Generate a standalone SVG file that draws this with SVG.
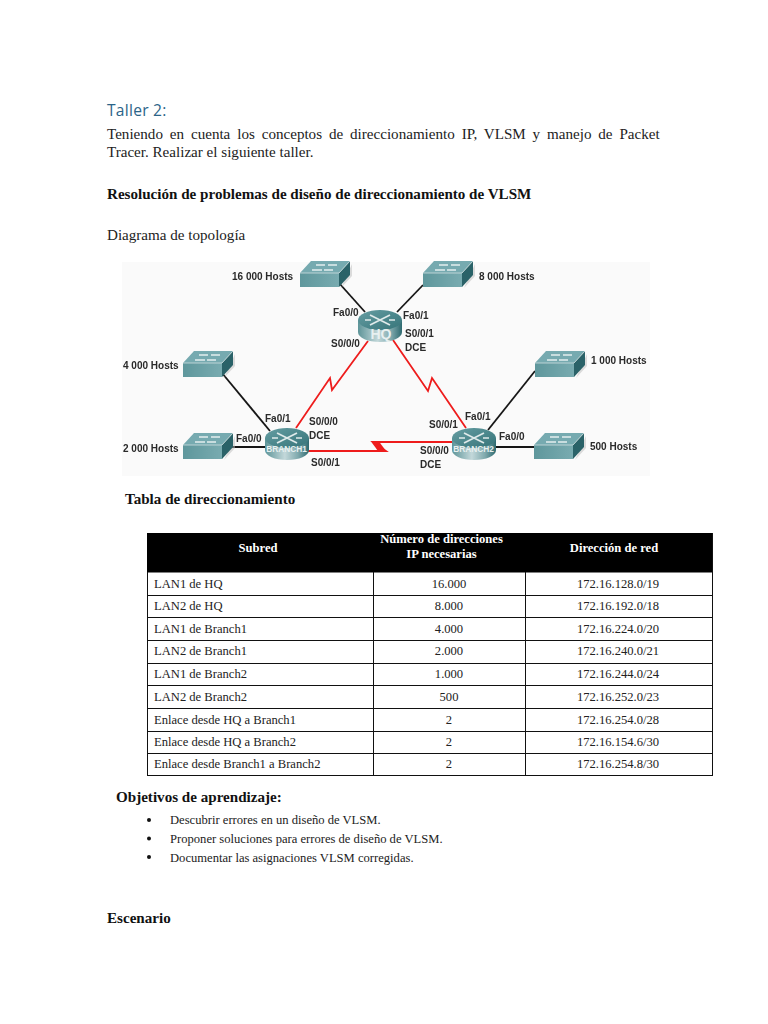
<svg xmlns="http://www.w3.org/2000/svg" xmlns:xlink="http://www.w3.org/1999/xlink" width="768" height="1024" viewBox="0 0 768 1024">
<style>
text{font-family:"Liberation Serif",serif;fill:#222}
.b{font-size:15.1px}
.h{font-size:15.1px;font-weight:bold;fill:#111}
.t{font-size:12.6px;fill:#222}
.c{text-anchor:middle}
.th{font-size:12.6px;font-weight:bold;fill:#fff;text-anchor:middle}
.n{font-family:"Liberation Sans",sans-serif;font-size:10px;font-weight:bold;fill:#2a2a2a}
.w{font-family:"Liberation Sans",sans-serif;font-weight:bold;fill:#e8f0f0;text-anchor:middle}
.k{fill:none;stroke:#151515;stroke-width:1.8}
.r{fill:none;stroke:#ee1c1c;stroke-width:1.8}
.g{stroke:#111;stroke-width:1;fill:none}
</style>
<defs>
<filter id="soft" x="-5%" y="-5%" width="110%" height="110%"><feGaussianBlur stdDeviation="0.5"/></filter>
<filter id="lab" x="-5%" y="-20%" width="110%" height="140%"><feGaussianBlur stdDeviation="0.25"/></filter>
<linearGradient id="rb" x1="0" x2="1" y1="0" y2="0"><stop offset="0" stop-color="#5d9498"/><stop offset="0.45" stop-color="#c3d8da"/><stop offset="0.75" stop-color="#7fa9ad"/><stop offset="1" stop-color="#2e6a70"/></linearGradient>
<linearGradient id="rt2" x1="0" x2="1" y1="0" y2="1"><stop offset="0" stop-color="#659da2"/><stop offset="1" stop-color="#367479"/></linearGradient>
<linearGradient id="sf" x1="0" x2="1" y1="0" y2="0"><stop offset="0" stop-color="#5f979c"/><stop offset="1" stop-color="#78abb0"/></linearGradient>
<g id="sw">
<path d="M2 27H41L52 15V3L41 27Z" fill="#bbb" opacity="0.5"/>
<path d="M0 12L11 0H50L39 12Z" fill="#76aab0"/>
<path d="M39 12L50 0V14L39 26Z" fill="#2c6267"/>
<rect x="0" y="12" width="39" height="14" fill="url(#sf)"/>
<path d="M0 12H39L50 0" fill="none" stroke="#cfe0e1" stroke-width="0.8"/>
<path d="M16 4H25M12 9H22M28 4H37M24 9H33" stroke="#e4eeee" stroke-width="1.4"/>
</g>
<g id="rt">
<path d="M0 10V22C0 28 10 32 22 32S44 28 44 22V10Z" fill="url(#rb)"/>
<ellipse cx="22" cy="10" rx="22" ry="10" fill="url(#rt2)"/>
<path d="M12 5L32 15M32 5L12 15M7 10H13M31 10H37" stroke="#dfeaea" stroke-width="1.7"/>
</g>
</defs>
<rect width="768" height="1024" fill="#fff"/>
<text x="107" y="116" style="font-family:'Open Sans',sans-serif;font-size:15.6px;letter-spacing:0.25px;fill:#2b6488">Taller 2:</text>
<text x="107" y="139" class="b" word-spacing="3.1">Teniendo en cuenta los conceptos de direccionamiento IP, VLSM y manejo de Packet</text>
<text x="107" y="157" class="b">Tracer. Realizar el siguiente taller.</text>
<text x="107" y="199" class="h">Resolución de problemas de diseño de direccionamiento de VLSM</text>
<text x="107" y="240" class="b">Diagrama de topología</text>
<rect x="122" y="262" width="528" height="214" fill="#fafafa"/>
<g id="connectors" filter="url(#soft)">
<path class="k" d="M339 283L365 312"/>
<path class="k" d="M423 285L397 312"/>
<path class="k" d="M222 373L270 431"/>
<path class="k" d="M230 447H266"/>
<path class="k" d="M535 371L488 430"/>
<path class="k" d="M495 447H534"/>
<path class="r" d="M368 341L332 390L330 378L296 428"/>
<path class="r" d="M393 340L428 391L432 378L466 428"/>
<path class="r" d="M308 451H386L373 442H452"/>
<path d="M371 441.500H379L386 451H378Z" fill="#ee1c1c"/>
</g>
<g id="sw16" filter="url(#soft)"><use xlink:href="#sw" href="#sw" x="300" y="261"/></g>
<g id="sw8" filter="url(#soft)"><use xlink:href="#sw" href="#sw" x="423" y="261"/></g>
<g id="sw4" filter="url(#soft)"><use xlink:href="#sw" href="#sw" x="183" y="351"/></g>
<g id="sw2" filter="url(#soft)"><use xlink:href="#sw" href="#sw" x="183" y="433"/></g>
<g id="sw1k" filter="url(#soft)"><use xlink:href="#sw" href="#sw" x="535" y="351"/></g>
<g id="sw500" filter="url(#soft)"><use xlink:href="#sw" href="#sw" x="534" y="433"/></g>
<g id="hq"><use xlink:href="#rt" href="#rt" x="358" y="310" filter="url(#soft)"/><text class="w" x="381" y="338.500" font-size="14">HQ</text></g>
<g id="branch1"><use xlink:href="#rt" href="#rt" x="265" y="428" filter="url(#soft)"/><text class="w" x="286.500" y="452" font-size="8.300">BRANCH1</text></g>
<g id="branch2"><use xlink:href="#rt" href="#rt" x="452" y="428" filter="url(#soft)"/><text class="w" x="473.500" y="452" font-size="8.300">BRANCH2</text></g>
<g id="labels" filter="url(#lab)">
<text class="n" x="232" y="280">16 000 Hosts</text>
<text class="n" x="479" y="280">8 000 Hosts</text>
<text class="n" x="123" y="369">4 000 Hosts</text>
<text class="n" x="123" y="452">2 000 Hosts</text>
<text class="n" x="591" y="364">1 000 Hosts</text>
<text class="n" x="590" y="450">500 Hosts</text>
<text class="n" x="333" y="316">Fa0/0</text>
<text class="n" x="331" y="347">S0/0/0</text>
<text class="n" x="403" y="319">Fa0/1</text>
<text class="n" x="405" y="337">S0/0/1</text>
<text class="n" x="405" y="351">DCE</text>
<text class="n" x="265" y="422">Fa0/1</text>
<text class="n" x="309" y="425">S0/0/0</text>
<text class="n" x="309" y="439">DCE</text>
<text class="n" x="236" y="442">Fa0/0</text>
<text class="n" x="311" y="466">S0/0/1</text>
<text class="n" x="465" y="420">Fa0/1</text>
<text class="n" x="429" y="428">S0/0/1</text>
<text class="n" x="499" y="440">Fa0/0</text>
<text class="n" x="420" y="454">S0/0/0</text>
<text class="n" x="420" y="468">DCE</text>
</g>
<text x="125" y="504" class="h">Tabla de direccionamiento</text>
<g id="table">
<rect x="147" y="533" width="565.500" height="39.500" fill="#000"/>
<path class="g" d="M147.500 572V776M373.500 572V776M525.500 572V776M712.500 533V776M147 595.500H713M147 617.500H713M147 640.500H713M147 663.500H713M147 685.500H713M147 708.500H713M147 731.500H713M147 753.500H713M147 775.500H713"/>
<text class="th" x="258" y="552">Subred</text>
<text class="th" x="441.500" y="543">Número de direcciones</text>
<text class="th" x="441.500" y="558">IP necesarias</text>
<text class="th" x="614" y="552">Dirección de red</text>
<text class="t" x="154" y="588">LAN1 de HQ</text><text class="t c" x="449" y="588">16.000</text><text class="t c" x="618" y="588">172.16.128.0/19</text>
<text class="t" x="154" y="610">LAN2 de HQ</text><text class="t c" x="449" y="610">8.000</text><text class="t c" x="618" y="610">172.16.192.0/18</text>
<text class="t" x="154" y="633">LAN1 de Branch1</text><text class="t c" x="449" y="633">4.000</text><text class="t c" x="618" y="633">172.16.224.0/20</text>
<text class="t" x="154" y="655">LAN2 de Branch1</text><text class="t c" x="449" y="655">2.000</text><text class="t c" x="618" y="655">172.16.240.0/21</text>
<text class="t" x="154" y="678">LAN1 de Branch2</text><text class="t c" x="449" y="678">1.000</text><text class="t c" x="618" y="678">172.16.244.0/24</text>
<text class="t" x="154" y="701">LAN2 de Branch2</text><text class="t c" x="449" y="701">500</text><text class="t c" x="618" y="701">172.16.252.0/23</text>
<text class="t" x="154" y="724">Enlace desde HQ a Branch1</text><text class="t c" x="449" y="724">2</text><text class="t c" x="618" y="724">172.16.254.0/28</text>
<text class="t" x="154" y="746">Enlace desde HQ a Branch2</text><text class="t c" x="449" y="746">2</text><text class="t c" x="618" y="746">172.16.154.6/30</text>
<text class="t" x="154" y="768">Enlace desde Branch1 a Branch2</text><text class="t c" x="449" y="768">2</text><text class="t c" x="618" y="768">172.16.254.8/30</text>
</g>
<text x="116" y="802" class="h">Objetivos de aprendizaje:</text>
<g id="list">
<circle cx="149" cy="820" r="2" fill="#111"/><circle cx="149" cy="838.500" r="2" fill="#111"/><circle cx="149" cy="857" r="2" fill="#111"/>
<text class="t" x="170" y="824">Descubrir errores en un diseño de VLSM.</text>
<text class="t" x="170" y="843">Proponer soluciones para errores de diseño de VLSM.</text>
<text class="t" x="170" y="862">Documentar las asignaciones VLSM corregidas.</text>
</g>
<text x="107" y="923" class="h">Escenario</text>
</svg>
